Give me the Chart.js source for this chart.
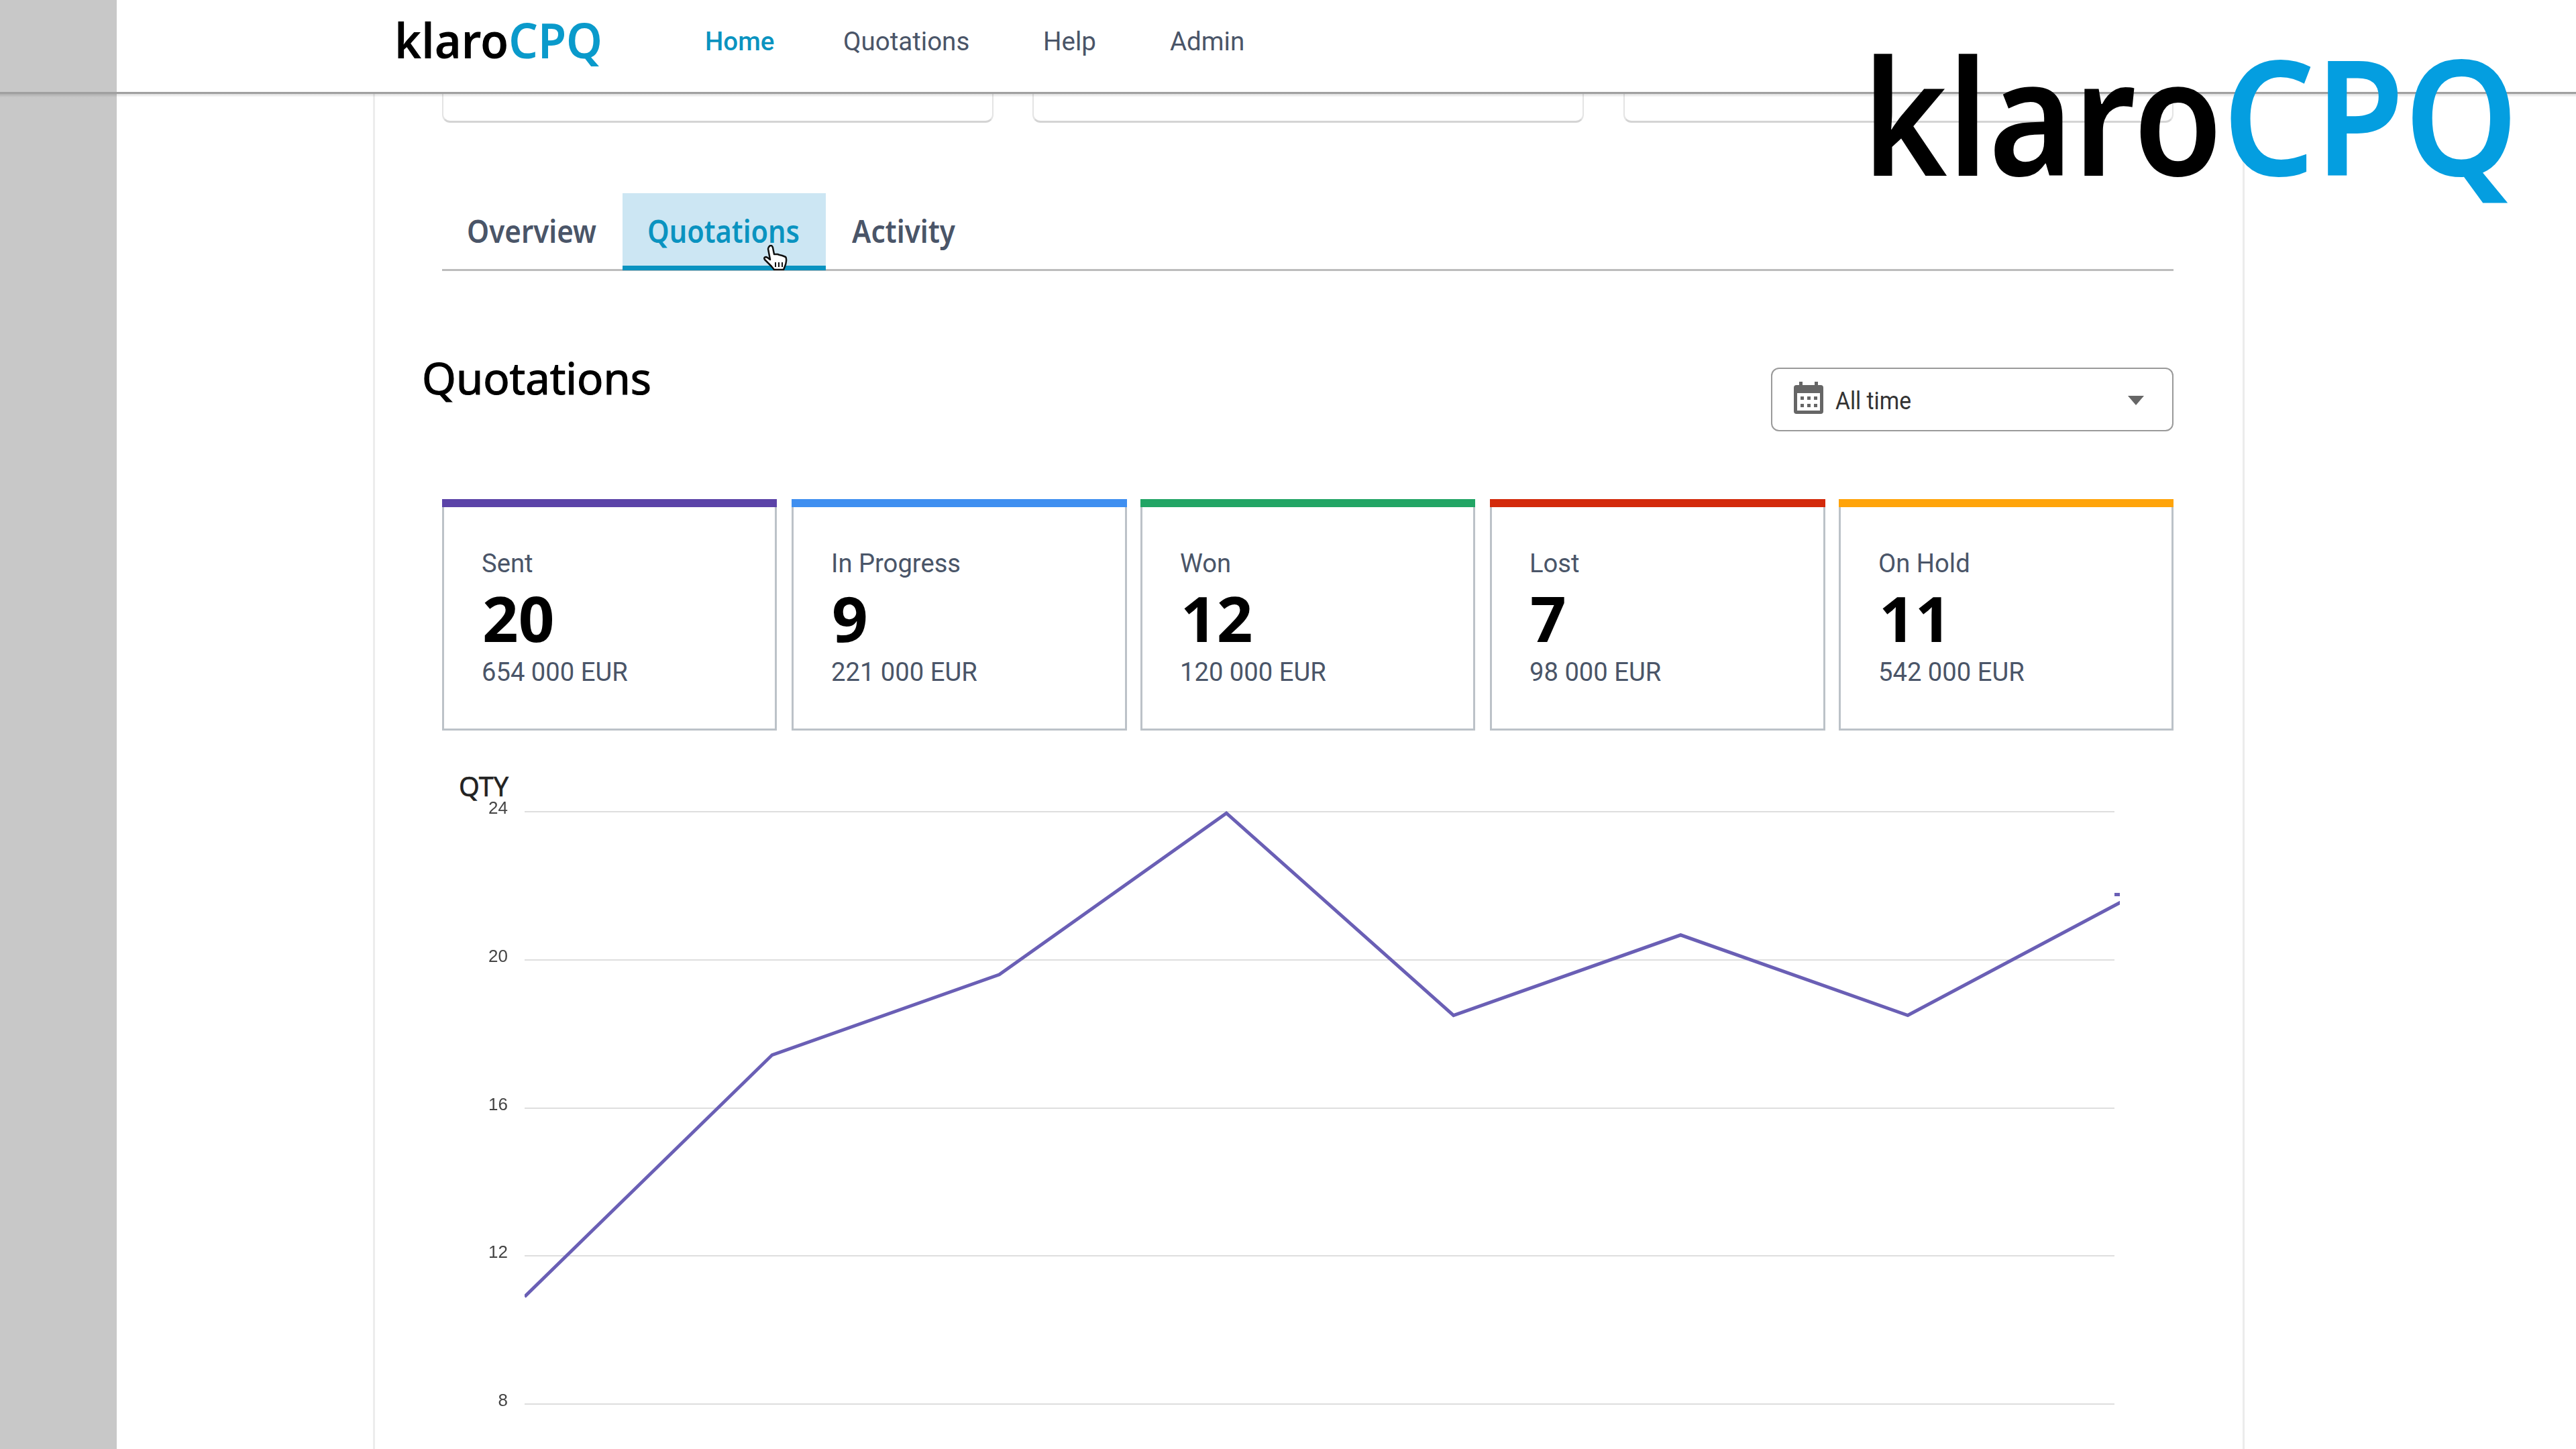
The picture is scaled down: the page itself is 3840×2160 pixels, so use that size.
<!DOCTYPE html>
<html>
<head>
<meta charset="utf-8">
<title>klaroCPQ Quotations</title>
<style>
html,body{margin:0;padding:0;width:3840px;height:2160px;overflow:hidden;background:#fff}
.box{position:absolute;box-sizing:border-box}
.t{position:absolute;white-space:nowrap;transform-origin:0 0;line-height:1}
#chart{position:absolute;left:600px;top:1150px}
</style>
<script src="https://cdn.jsdelivr.net/npm/chart.js@4"></script>
</head>
<body>
<script>
// ---- Data ----
const periods = [0, 1.09, 2.09, 3.09, 4.09, 5.09, 6.09, 7.09];
const qtyValues = [10.9, 17.43, 19.6, 23.96, 18.5, 20.67, 18.5, 21.76];
const tailPeriods = [7.0, 7.1];
const tailValues = [21.76, 21.76];
const yTicks = [8, 12, 16, 20, 24];
const statusNames = ["Sent", "In Progress", "Won", "Lost", "On Hold"];
const statusCounts = ["20", "9", "12", "7", "11"];
const statusAmounts = ["654 000 EUR", "221 000 EUR", "120 000 EUR", "98 000 EUR", "542 000 EUR"];
const navItems = ["Home", "Quotations", "Help", "Admin"];
const tabItems = ["Overview", "Quotations", "Activity"];

// ---- Styles and layout ----
const statusColors = ["#5b43a8", "#3f8ff0", "#22a565", "#d32a0b", "#ffa40a"];
const cardLefts = [659, 1180, 1700, 2221, 2741];
const cardRights = [1158, 1680, 2199, 2721, 3240];
const navX = [1051, 1257, 1555, 1744];
const tabX = [696, 965, 1270];
const tabW = [193, 227, 154];
const BODY = "Roboto, sans-serif", HEAD = "'Noto Sans', sans-serif";
const SLATE = "#4a5568", BLUE = "#0a93c0";

function box(x, y, w, h, css) {
  const d = document.createElement("div");
  d.className = "box";
  d.style.cssText = `left:${x}px;top:${y}px;width:${w}px;height:${h}px;${css || ""}`;
  document.body.appendChild(d);
  return d;
}
// Real text placed by its baseline; optional fitted width
function text(str, x, base, size, font, color, weight, fitW, parts) {
  const s = document.createElement("span");
  s.className = "t";
  s.style.cssText = `left:${x}px;top:0;font:${weight || 400} ${size}px/1 ${font};color:${color};`;
  if (parts) parts.forEach(p => { const i = document.createElement("span"); i.textContent = p[0]; i.style.color = p[1]; s.appendChild(i); });
  else s.textContent = str;
  const m = document.createElement("span");
  m.style.cssText = "display:inline-block;width:0;height:0;vertical-align:baseline";
  s.appendChild(m);
  document.body.appendChild(s);
  s.style.top = (base - m.getBoundingClientRect().bottom) + "px";
  if (fitW) s.style.transform = `scaleX(${fitW / s.getBoundingClientRect().width})`;
  return s;
}

// page frame
box(0, 0, 174, 2160, "background:#c8c8c8");
box(556, 0, 3, 2160, "background:#ececec");
box(3343, 0, 3, 2160, "background:#ececec");

// upper cards clipped by the header
[[659, 1481], [1539, 2361], [2420, 3240]].forEach(c =>
  box(c[0], 100, c[1] - c[0], 83, "background:#fff;border:2px solid #e4e4e4;border-bottom:3px solid #d4d4d4;border-radius:0 0 12px 12px"));

// header
box(174, 0, 3666, 137, "background:#fff");
box(0, 137, 3840, 3, "background:#a0a0a0");
box(0, 140, 3840, 5, "background:linear-gradient(#00000022,#00000000)");
text("", 588, 87, 72, HEAD, "#000", 600, 310, [["klaro", "#000"], ["CPQ", "#0a9acb"]]);
navItems.forEach((n, i) => text(n, navX[i], 75, 38.5, BODY, i === 0 ? BLUE : SLATE, i === 0 ? 500 : 400));

// tabs
box(928, 288, 303, 114, "background:#cce6f3");
box(659, 401, 2581, 3, "background:#bcbcbc");
box(928, 396, 303, 7, "background:" + BLUE);
tabItems.forEach((n, i) => text(n, tabX[i], 362, 46, HEAD, i === 1 ? BLUE : SLATE, 600, tabW[i]));

// title and filter
text("Quotations", 629, 588, 65, HEAD, "#000", 400, 342).style.webkitTextStroke = "1.2px #000";
box(2640, 548, 600, 95, "background:#fff;border:2.5px solid #9a9a9a;border-radius:12px");
const cal = document.createElementNS("http://www.w3.org/2000/svg", "svg");
cal.setAttribute("style", "position:absolute;left:2674px;top:569px");
cal.setAttribute("width", "44"); cal.setAttribute("height", "48"); cal.setAttribute("viewBox", "0 0 44 48");
cal.innerHTML = '<rect x="8" y="0" width="5" height="8" fill="#666"/><rect x="31" y="0" width="5" height="8" fill="#666"/>' +
  '<rect x="0" y="5" width="44" height="43" rx="4" fill="#666"/><rect x="5" y="17" width="34" height="26" fill="#fff"/>' +
  [10, 20, 30].map(x => [22, 33].map(y => `<rect x="${x}" y="${y}" width="5" height="5" fill="#666"/>`).join("")).join("");
document.body.appendChild(cal);
text("All time", 2736, 610, 37, BODY, "#333", 400, 113);
const caret = document.createElementNS("http://www.w3.org/2000/svg", "svg");
caret.setAttribute("style", "position:absolute;left:3172px;top:590px");
caret.setAttribute("width", "24"); caret.setAttribute("height", "14");
caret.innerHTML = '<path d="M0 0H24L12 14Z" fill="#666"/>';
document.body.appendChild(caret);

// status cards
statusNames.forEach((n, i) => {
  const l = cardLefts[i], r = cardRights[i];
  box(l, 744, r - l, 345, "background:#fff;border:3px solid #bcc2c8");
  box(l, 744, r - l, 12, "background:" + statusColors[i]);
  text(n, l + 59, 853, 38.2, BODY, SLATE);
  text(statusCounts[i], l + 60, 957, 94, HEAD, "#000", 700);
  text(statusAmounts[i], l + 59, 1015, 38.2, BODY, SLATE);
});

// axis caption
text("QTY", 684, 1187, 40, HEAD, "#222", 400, 74).style.webkitTextStroke = "0.6px #222";

// chart
const cv = document.createElement("canvas");
cv.id = "chart"; cv.width = 2740; cv.height = 1010;
document.body.appendChild(cv);
new Chart(cv, {
  type: "line",
  data: {
    datasets: [
      { label: "QTY", data: periods.map((p, i) => ({ x: p, y: qtyValues[i] })),
        borderColor: "#6a5fb5", borderWidth: 5, tension: 0, pointRadius: 0,
        clip: { left: 0, top: 10, right: 8, bottom: 0 } },
      { label: "QTY (end)", data: tailPeriods.map((p, i) => ({ x: p, y: tailValues[i] })),
        borderColor: "#6a5fb5", borderWidth: 5, tension: 0, pointRadius: 0,
        clip: { left: 0, top: 10, right: 8, bottom: 0 } }
    ]
  },
  options: {
    responsive: false, animation: false, devicePixelRatio: 1,
    layout: { padding: { left: 0, top: 60, right: 188, bottom: 67 } },
    plugins: { legend: { display: false }, tooltip: { enabled: false } },
    scales: {
      x: { type: "linear", min: 0, max: 7, display: false },
      y: {
        min: 8, max: 24,
        afterFit: s => { s.width = 182; },
        afterBuildTicks: s => { s.ticks = yTicks.map(v => ({ value: v })); },
        border: { display: false },
        grid: { color: "#dedede", lineWidth: 2, drawTicks: false },
        ticks: { padding: 25, labelOffset: -4, color: "#444",
          font: { family: "'Liberation Sans', Arial, sans-serif", size: 26 } }
      }
    }
  }
});

// mouse pointer
const hand = document.createElementNS("http://www.w3.org/2000/svg", "svg");
hand.setAttribute("style", "position:absolute;left:1138px;top:365px");
hand.setAttribute("width", "36"); hand.setAttribute("height", "38"); hand.setAttribute("viewBox", "0 0 36 38");
hand.innerHTML = '<path d="M9 2 C11 0 13 1 14 4 L16 14 L21 14 L24 15 L28 16 L33 18 C35 20 34 28 32 32 L30 37 L16 37 L12 32 L2 22 C0 19 3 17 6 19 L10 22 L7 6 C7 4 8 3 9 2Z" fill="#fff" stroke="#111" stroke-width="2.5" stroke-linejoin="round"/>' +
  '<path d="M18 26V33M23 26V33M28 26V33" stroke="#111" stroke-width="2"/>';
document.body.appendChild(hand);

// big logo on top
text("", 2776, 262, 238, HEAD, "#000", 600, 978, [["klaro", "#000"], ["CPQ", "#049ee0"]]);
</script>
</body>
</html>
